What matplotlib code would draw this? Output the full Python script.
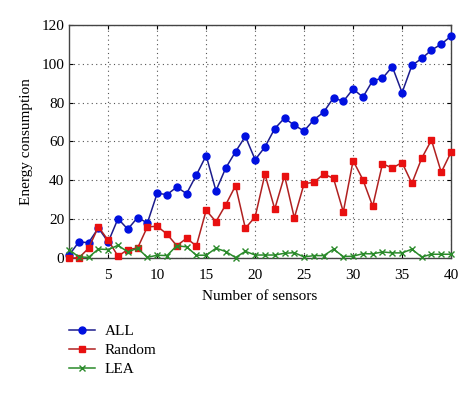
import matplotlib
matplotlib.use("Agg")
import matplotlib.pyplot as plt
import numpy as np

plt.rcParams['font.family'] = ['Liberation Serif', 'DejaVu Serif']

sensors = np.arange(1, 41)

energy_all = [1.4, 8.2, 7.9, 15.4, 8.2, 20.2, 14.8, 20.8, 18.0, 33.3,
              32.6, 36.5, 33.1, 42.7, 52.7, 34.6, 46.3, 54.7, 62.6, 50.6,
              57.1, 66.6, 72.0, 68.3, 65.4, 71.2, 75.1, 82.5, 80.6, 87.0,
              82.8, 91.3, 92.5, 98.5, 85.1, 99.1, 102.7, 107.0, 110.1, 114.2]
energy_random = [0.0, 0.0, 5.0, 16.0, 9.1, 0.9, 4.3, 5.1, 16.0, 16.3,
                 12.3, 6.3, 10.1, 6.2, 24.5, 18.7, 27.4, 37.2, 15.3, 21.1,
                 43.1, 25.2, 42.4, 20.6, 38.3, 38.9, 43.2, 41.0, 23.7, 50.1,
                 40.3, 26.6, 48.5, 46.3, 49.1, 38.4, 51.3, 60.7, 44.1, 54.5]
energy_lea = [4.3, 0.5, 0.3, 4.6, 4.3, 6.5, 3.1, 5.0, 0.3, 1.4,
              1.2, 6.3, 5.7, 1.4, 1.4, 5.0, 3.3, 0.2, 3.4, 1.5,
              1.5, 1.5, 2.4, 2.7, 0.5, 1.2, 1.2, 4.5, 0.7, 0.9,
              2.2, 2.1, 3.1, 2.6, 2.6, 4.5, 0.5, 1.9, 1.9, 1.9]

fig = plt.figure(figsize=(4.74, 3.95), dpi=100)
ax = fig.add_axes([0.1456, 0.347, 0.806, 0.59])

ax.plot(sensors, energy_all, color='#1c1c8c', lw=1.1, marker='o', ms=5,
        mfc='#0010e0', mec='#0010e0', label='ALL', clip_on=False, zorder=3)
ax.plot(sensors, energy_random, color='#b02020', lw=1.1, marker='s', ms=4,
        mfc='#e81010', mec='#e81010', label='Random', clip_on=False, zorder=3)
ax.plot(sensors, energy_lea, color='#2a8a2a', lw=1.1, marker='x', ms=4,
        mew=1.0, label='LEA', clip_on=False, zorder=3)

ax.set_xlim(1, 40)
ax.set_ylim(0, 120)
ax.set_xticks(range(5, 41, 5))
ax.set_yticks(range(0, 121, 20))
ax.grid(True, linestyle=(0, (1, 3)), color='#555555', lw=0.8)
ax.tick_params(direction='in', labelsize=11, length=3, top=True, right=True)
ax.tick_params(axis='x', pad=8)
for s in ax.spines.values():
    s.set_color('#444444')
    s.set_linewidth(1.0)

ax.set_xlabel('Number of sensors', fontsize=11, labelpad=6)
ax.set_ylabel('Energy consumption', fontsize=11, labelpad=6)

fig.legend(loc='upper left', bbox_to_anchor=(0.117, 0.213), frameon=False,
           fontsize=11, handlelength=1.7, handletextpad=0.6, labelspacing=0.35)

fig.savefig('out.png', dpi=100)
